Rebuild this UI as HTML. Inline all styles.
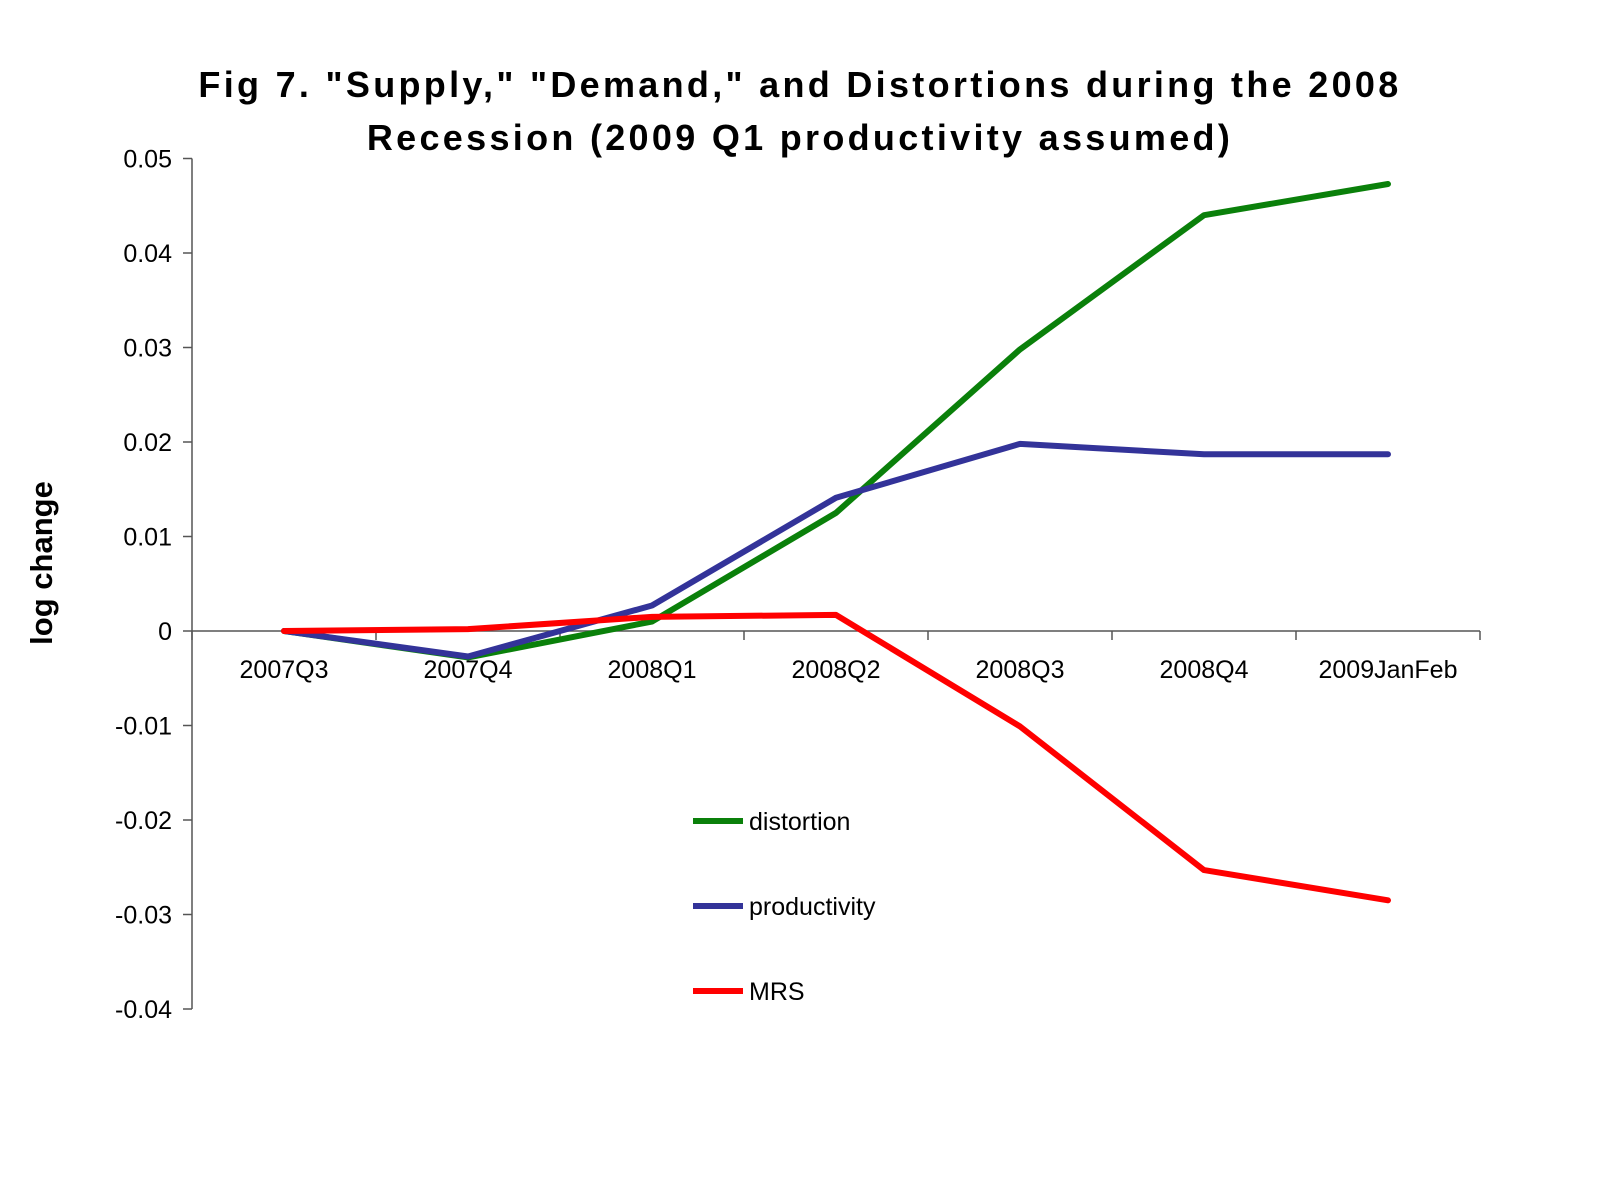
<!DOCTYPE html>
<html><head><meta charset="utf-8"><style>
html,body{margin:0;padding:0;background:#fff;}
svg{display:block;font-family:"Liberation Sans",Arial,sans-serif;}
</style></head><body>
<svg id="chart" width="1600" height="1199" viewBox="0 0 1600 1199">
<g font-weight="bold" font-size="36" text-anchor="middle" letter-spacing="3.3">
<text x="800" y="97">Fig 7.  "Supply," "Demand," and Distortions during the 2008</text>
<text x="800" y="150">Recession (2009 Q1 productivity assumed)</text>
</g>
<text transform="translate(52,563) rotate(-90)" text-anchor="middle" font-weight="bold" font-size="31">log change</text>
<g id="axes"></g>
<g id="series"></g>
<g id="legend"></g>
</svg>
<script>
const categories=["2007Q3","2007Q4","2008Q1","2008Q2","2008Q3","2008Q4","2009JanFeb"];
const distortion=[0,-0.0028,0.001,0.0125,0.0298,0.0440,0.0473];
const productivity=[0,-0.0027,0.0027,0.0141,0.0198,0.0187,0.0187];
const mrs=[0,0.0002,0.0015,0.0017,-0.0101,-0.0253,-0.0285];
const yTicks=[0.05,0.04,0.03,0.02,0.01,0,-0.01,-0.02,-0.03,-0.04];
const yTickLabels=["0.05","0.04","0.03","0.02","0.01","0","-0.01","-0.02","-0.03","-0.04"];
const seriesNames=["distortion","productivity","MRS"];
const seriesColors=["#0a800a","#333399","#ff0000"];

const NS="http://www.w3.org/2000/svg";
const X0=192,X1=1480,Y0=631,PER=94.5;
const bw=(X1-X0)/categories.length;
function x(i){return X0+bw*(i+0.5);}
function y(v){return Y0-v*PER*100;}
function mk(t,a,p){const e=document.createElementNS(NS,t);for(const k in a)e.setAttribute(k,a[k]);p.appendChild(e);return e;}
const axes=document.getElementById('axes');
const yAxis=mk('line',{x1:X0,x2:X0,y1:y(0.05),y2:y(-0.04),stroke:'#555','stroke-width':1.5},axes);


yTicks.forEach((v,i)=>{
  const tk=mk('line',{x1:X0-9,x2:X0,y1:y(v),y2:y(v),stroke:'#555','stroke-width':1.5},axes);
  
  
  const t=mk('text',{x:X0-20,y:y(v)+9,'text-anchor':'end','font-size':25},axes);
  t.textContent=yTickLabels[i];
  
  
});
const xAxis=mk('line',{x1:X0,x2:X1,y1:y(0),y2:y(0),stroke:'#555','stroke-width':1.5},axes);


for(let i=0;i<=categories.length;i++){
  const tk=mk('line',{x1:X0+bw*i,x2:X0+bw*i,y1:y(0),y2:y(0)+9,stroke:'#555','stroke-width':1.5},axes);
  
  
}
categories.forEach((c,i)=>{
  const t=mk('text',{x:x(i),y:y(0)+47,'text-anchor':'middle','font-size':25},axes);
  t.textContent=c;
  
  
});
const ser=document.getElementById('series');
const data=[distortion,productivity,mrs];
data.forEach((d,si)=>{
  const p=mk('polyline',{points:d.map((v,i)=>x(i)+','+y(v)).join(' '),fill:'none',stroke:seriesColors[si],'stroke-width':6,'stroke-linejoin':'round','stroke-linecap':'round'},ser);
  
  
});
const lg=document.getElementById('legend');


seriesNames.forEach((n,i)=>{
  const ly=821+i*85;
  const g=mk('g',{},lg);
  
  
  mk('line',{x1:693,x2:743,y1:ly,y2:ly,stroke:seriesColors[i],'stroke-width':6},g);
  const t=mk('text',{x:749,y:ly+9,'font-size':25},g);
  t.textContent=n;
});
</script>
</body></html>
